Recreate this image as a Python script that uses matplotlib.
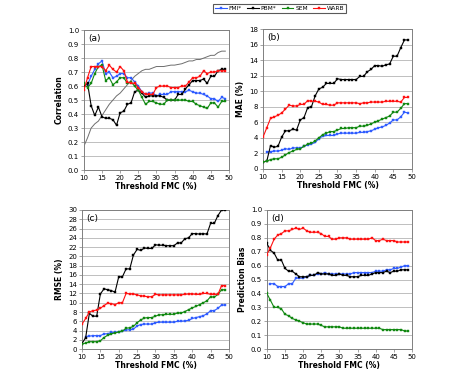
"""Four-panel threshold FMC comparison chart."""

import numpy as np
import matplotlib
import matplotlib.pyplot as plt

matplotlib.use("Agg")

# Threshold FMC values (%)
thresholds = list(range(10, 50))
nan = float("nan")

# Series colours
COLORS = {
    "FMI*": "#2f5cff",
    "PBM*": "#000000",
    "SEM": "#118811",
    "WARB": "#ff1010",
}

# (a) Correlation
corr_fmi = [nan, 0.61, 0.67, 0.72, 0.76, 0.78, 0.69, 0.70, 0.66, 0.67,
            0.69, 0.69, 0.66, 0.66, 0.63, 0.60, 0.56, 0.54, 0.55, 0.55,
            0.53, 0.54, 0.54, 0.54, 0.56, 0.56, 0.56, 0.56, 0.56, 0.57,
            0.56, 0.55, 0.55, 0.54, 0.53, 0.51, 0.51, 0.49, 0.52, 0.51]
corr_pbm = [0.60, 0.62, 0.46, 0.39, 0.45, 0.38, 0.37, 0.37, 0.36, 0.32,
            0.41, 0.42, 0.47, 0.48, 0.56, 0.57, 0.55, 0.52, 0.53, 0.53,
            0.53, 0.53, 0.52, 0.50, 0.50, 0.50, 0.54, 0.54, 0.58, 0.61,
            0.64, 0.64, 0.64, 0.65, 0.62, 0.67, 0.67, 0.71, 0.72, 0.72]
corr_sem = [0.62, 0.59, 0.62, 0.69, 0.74, 0.75, 0.64, 0.66, 0.61, 0.63,
            0.66, 0.66, 0.62, 0.63, 0.60, 0.57, 0.52, 0.47, 0.49, 0.49,
            0.48, 0.47, 0.47, 0.50, 0.50, 0.50, 0.50, 0.50, 0.50, 0.49,
            0.49, 0.47, 0.46, 0.45, 0.44, 0.48, 0.48, 0.45, 0.49, 0.49]
corr_warb = [0.57, 0.66, 0.74, 0.74, 0.74, 0.74, 0.71, 0.75, 0.72, 0.70,
             0.74, 0.71, 0.63, 0.62, 0.62, 0.59, 0.56, 0.54, 0.54, 0.54,
             0.59, 0.60, 0.60, 0.60, 0.59, 0.59, 0.59, 0.60, 0.60, 0.63,
             0.66, 0.66, 0.67, 0.71, 0.69, 0.70, 0.70, 0.71, 0.71, 0.71]
# thin grey reference curve in panel (a)
corr_ref = [0.17, 0.23, 0.30, 0.33, 0.35, 0.39, 0.43, 0.47, 0.50, 0.53,
            0.55, 0.58, 0.61, 0.64, 0.67, 0.69, 0.71, 0.72, 0.72, 0.73,
            0.74, 0.74, 0.74, 0.745, 0.75, 0.75, 0.755, 0.76, 0.77, 0.78,
            0.78, 0.79, 0.79, 0.80, 0.81, 0.82, 0.82, 0.84, 0.85, 0.85]

# (b) MAE (%)
mae_fmi = [nan, 2.2, 2.2, 2.3, 2.3, 2.4, 2.6, 2.5, 2.7, 2.7,
           2.7, 2.9, 3.1, 3.2, 3.4, 3.9, 4.2, 4.3, 4.3, 4.3,
           4.5, 4.6, 4.6, 4.6, 4.6, 4.6, 4.7, 4.7, 4.8, 4.9,
           5.1, 5.3, 5.4, 5.6, 5.9, 6.3, 6.3, 6.7, 7.3, 7.2]
mae_pbm = [0.9, 1.0, 3.0, 2.8, 2.9, 4.1, 4.9, 4.9, 5.1, 5.0,
           6.3, 6.6, 7.9, 8.0, 9.4, 10.3, 10.5, 11.0, 11.0, 11.0,
           11.6, 11.5, 11.5, 11.5, 11.5, 11.5, 11.9, 11.9, 12.5, 12.8,
           13.3, 13.3, 13.2, 13.4, 13.5, 14.5, 14.5, 15.6, 16.6, 16.6]
mae_sem = [0.9, 1.0, 1.2, 1.3, 1.3, 1.5, 1.8, 2.1, 2.3, 2.5,
           2.6, 2.9, 3.2, 3.3, 3.6, 4.0, 4.4, 4.6, 4.8, 4.8,
           5.0, 5.2, 5.2, 5.3, 5.3, 5.3, 5.5, 5.5, 5.6, 5.8,
           6.0, 6.2, 6.4, 6.6, 6.8, 7.3, 7.3, 7.8, 8.4, 8.4]
mae_warb = [4.1, 5.3, 6.5, 6.7, 6.9, 7.2, 7.7, 8.2, 8.1, 8.1,
            8.3, 8.3, 8.8, 8.7, 8.7, 8.6, 8.3, 8.3, 8.2, 8.2,
            8.5, 8.5, 8.5, 8.5, 8.5, 8.5, 8.4, 8.5, 8.5, 8.6,
            8.6, 8.6, 8.6, 8.7, 8.7, 8.7, 8.7, 8.6, 9.2, 9.2]

# (c) RMSE (%)
rmse_fmi = [nan, 2.7, 2.8, 2.9, 2.9, 2.9, 3.3, 3.3, 3.6, 3.6,
            3.7, 3.9, 4.1, 4.2, 4.3, 5.0, 5.3, 5.4, 5.4, 5.4,
            5.7, 5.8, 5.8, 5.8, 5.8, 5.8, 6.0, 6.0, 6.1, 6.2,
            6.6, 6.8, 7.0, 7.2, 7.6, 8.3, 8.3, 8.8, 9.5, 9.5]
rmse_pbm = [1.2, 2.5, 7.7, 7.1, 7.1, 11.9, 13.0, 12.8, 12.6, 12.3,
            15.6, 15.6, 17.3, 17.3, 20.3, 21.5, 21.3, 21.8, 21.7, 21.7,
            22.5, 22.4, 22.4, 22.3, 22.3, 22.3, 22.9, 22.9, 23.8, 24.0,
            24.9, 24.9, 24.8, 24.9, 24.8, 27.1, 27.1, 28.8, 30.0, 30.0]
rmse_sem = [1.1, 1.3, 1.6, 1.6, 1.6, 1.8, 2.5, 3.0, 3.3, 3.5,
            3.7, 3.9, 4.5, 4.6, 4.9, 5.7, 6.3, 6.7, 6.8, 6.8,
            7.1, 7.4, 7.4, 7.5, 7.5, 7.5, 7.8, 7.8, 8.1, 8.5,
            8.9, 9.2, 9.6, 10.0, 10.4, 11.3, 11.2, 11.8, 12.8, 12.8]
rmse_warb = [5.4, 6.6, 8.0, 8.3, 8.4, 8.8, 9.4, 9.9, 9.8, 9.6,
             10.0, 10.0, 12.0, 11.9, 11.9, 11.7, 11.5, 11.4, 11.3, 11.3,
             11.8, 11.7, 11.7, 11.7, 11.7, 11.7, 11.7, 11.7, 11.8, 11.9,
             11.9, 11.8, 11.8, 12.0, 12.0, 11.8, 11.8, 11.8, 13.7, 13.7]

# (d) Prediction bias
bias_fmi = [nan, 0.47, 0.47, 0.45, 0.45, 0.45, 0.47, 0.47, 0.51, 0.51,
            0.51, 0.52, 0.53, 0.53, 0.54, 0.54, 0.55, 0.54, 0.54, 0.54,
            0.54, 0.54, 0.54, 0.54, 0.55, 0.55, 0.55, 0.55, 0.55, 0.55,
            0.56, 0.56, 0.56, 0.57, 0.57, 0.58, 0.58, 0.59, 0.60, 0.60]
bias_pbm = [0.76, 0.71, 0.69, 0.64, 0.64, 0.58, 0.56, 0.56, 0.54, 0.52,
            0.52, 0.52, 0.53, 0.53, 0.55, 0.54, 0.54, 0.54, 0.53, 0.53,
            0.54, 0.53, 0.53, 0.52, 0.52, 0.52, 0.53, 0.53, 0.53, 0.54,
            0.55, 0.55, 0.55, 0.56, 0.55, 0.56, 0.56, 0.57, 0.57, 0.57]
bias_sem = [0.40, 0.35, 0.30, 0.30, 0.29, 0.25, 0.24, 0.22, 0.21, 0.20,
            0.19, 0.18, 0.18, 0.18, 0.18, 0.17, 0.16, 0.16, 0.16, 0.16,
            0.16, 0.15, 0.15, 0.15, 0.15, 0.15, 0.15, 0.15, 0.15, 0.15,
            0.15, 0.15, 0.14, 0.14, 0.14, 0.14, 0.14, 0.14, 0.13, 0.13]
bias_warb = [0.68, 0.73, 0.79, 0.82, 0.83, 0.85, 0.85, 0.86, 0.87, 0.86,
             0.87, 0.85, 0.84, 0.84, 0.84, 0.83, 0.81, 0.81, 0.79, 0.79,
             0.80, 0.80, 0.80, 0.79, 0.79, 0.79, 0.79, 0.79, 0.79, 0.80,
             0.78, 0.78, 0.79, 0.78, 0.78, 0.78, 0.77, 0.77, 0.77, 0.77]

PANELS = [
    {"tag": "(a)", "ylabel": "Correlation", "ylim": (0, 1.0), "step": 0.1, "fmt": "{:.1f}",
     "rect": [0.177, 0.549, 0.306, 0.371],
     "series": {"FMI*": corr_fmi, "PBM*": corr_pbm, "SEM": corr_sem, "WARB": corr_warb}},
    {"tag": "(b)", "ylabel": "MAE (%)", "ylim": (0, 18), "step": 2, "fmt": "{:.0f}",
     "rect": [0.555, 0.552, 0.314, 0.371],
     "series": {"FMI*": mae_fmi, "PBM*": mae_pbm, "SEM": mae_sem, "WARB": mae_warb}},
    {"tag": "(c)", "ylabel": "RMSE (%)", "ylim": (0, 30), "step": 2, "fmt": "{:.0f}",
     "rect": [0.173, 0.074, 0.310, 0.369],
     "series": {"FMI*": rmse_fmi, "PBM*": rmse_pbm, "SEM": rmse_sem, "WARB": rmse_warb}},
    {"tag": "(d)", "ylabel": "Prediction Bias", "ylim": (0, 1.0), "step": 0.1, "fmt": "{:.1f}",
     "rect": [0.563, 0.074, 0.306, 0.369],
     "series": {"FMI*": bias_fmi, "PBM*": bias_pbm, "SEM": bias_sem, "WARB": bias_warb}},
]

fig = plt.figure(figsize=(4.74, 3.77), dpi=100)
fig.patch.set_facecolor("white")

handles = []
for i, panel in enumerate(PANELS):
    ax = fig.add_axes(panel["rect"])
    # grey reference curve only in the correlation panel
    if i == 0:
        ax.plot(thresholds, corr_ref, color="#6e6e6e", linewidth=0.7, zorder=2)
    for name, values in panel["series"].items():
        (line,) = ax.plot(thresholds, values, color=COLORS[name], linewidth=0.8,
                          marker="s", markersize=2.0, markeredgewidth=0.3,
                          label=name, zorder=3)
        if i == 0:
            handles.append(line)

    lo, hi = panel["ylim"]
    ticks = np.arange(lo, hi + panel["step"] / 2, panel["step"])
    ax.set_ylim(lo, hi)
    ax.set_yticks(ticks)
    ax.set_yticklabels([panel["fmt"].format(t) for t in ticks])
    ax.set_xlim(10, 50)
    ax.set_xticks(range(10, 51, 5))

    ax.grid(True, axis="y", color="#b4b4b4", linewidth=0.6)
    ax.set_axisbelow(True)
    for spine in ax.spines.values():
        spine.set_color("#808080")
        spine.set_linewidth(0.7)
    ax.tick_params(labelsize=5, length=2, width=0.5, color="#808080", pad=1.5)

    ax.set_xlabel("Threshold FMC (%)", fontsize=5.5, fontweight="bold", labelpad=1)
    ax.set_ylabel(panel["ylabel"], fontsize=5.5, fontweight="bold", labelpad=3)
    ax.text(0.03, 0.97, panel["tag"], transform=ax.transAxes, fontsize=6.5,
            ha="left", va="top")

leg = fig.legend(handles=handles, loc="upper center", bbox_to_anchor=(0.59, 0.998),
                 ncol=4, fontsize=4.2, frameon=True, fancybox=False, edgecolor="#303030",
                 handlelength=2.0, columnspacing=0.9, handletextpad=0.3,
                 borderpad=0.35)
leg.get_frame().set_linewidth(0.8)

fig.savefig("out.png", dpi=100, facecolor="white")
plt.close(fig)
